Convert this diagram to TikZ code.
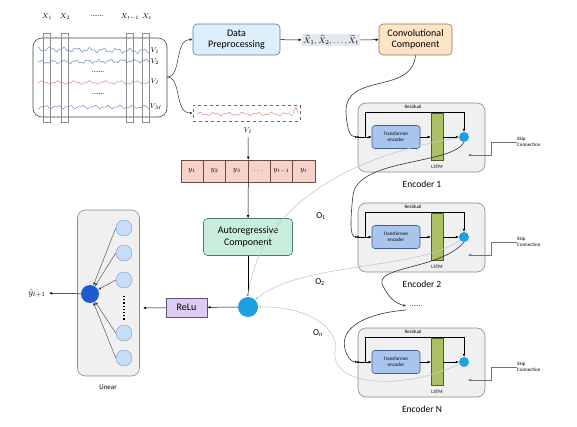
\documentclass[tikz,border=0pt]{standalone}
\usepackage{fontspec}
\setmainfont{Carlito}
\usepackage{amsmath}
\usetikzlibrary{arrows.meta,positioning}

\definecolor{seriesblue}{HTML}{6F8FC2}
\definecolor{seriesred}{HTML}{D48C82}
\definecolor{prepfill}{HTML}{DDEFFB}
\definecolor{prepdraw}{HTML}{5B7D9E}
\definecolor{convfill}{HTML}{FDE4C4}
\definecolor{convdraw}{HTML}{8C7455}
\definecolor{arfill}{HTML}{C9EDDC}
\definecolor{ardraw}{HTML}{4E7D66}
\definecolor{cellfill}{HTML}{F7D2C8}
\definecolor{celldraw}{HTML}{6B4A48}
\definecolor{relufill}{HTML}{DCCBF2}
\definecolor{reludraw}{HTML}{5E5470}
\definecolor{tffill}{HTML}{A9C5EE}
\definecolor{tfdraw}{HTML}{3E5F91}
\definecolor{lstmfill}{HTML}{A9C063}
\definecolor{lstmdraw}{HTML}{4F5E2A}
\definecolor{sumblue}{HTML}{1CA0E3}
\definecolor{outblue}{HTML}{1E5BD1}
\definecolor{neufill}{HTML}{C7DCF6}
\definecolor{neudraw}{HTML}{7E9CCB}
\definecolor{encfill}{HTML}{F0F0F0}
\definecolor{encdraw}{HTML}{8A8A8A}
\definecolor{xfill}{HTML}{E4E8F0}

\tikzset{
  box/.style={draw=#1, rounded corners=4pt, line width=0.6pt, align=center,
    inner sep=0pt, font=\fontsize{10}{11.5}\selectfont},
  panel/.style={draw=black!75, rounded corners=9pt, line width=0.6pt},
  strip/.style={draw=black!45, line width=0.5pt},
  cell/.style={draw=celldraw, fill=cellfill, minimum width=22.3, minimum height=22,
    inner sep=0pt, line width=0.6pt, font=\fontsize{7}{8}\selectfont},
  encbox/.style={draw=encdraw, fill=encfill, rounded corners=8pt, minimum width=127,
    minimum height=69, line width=0.6pt},
  tfbox/.style={draw=tfdraw, fill=tffill, rounded corners=3pt, minimum width=48,
    minimum height=23, inner sep=0pt, align=center, line width=0.6pt,
    font=\fontsize{5}{6}\selectfont},
  lstmbox/.style={draw=lstmdraw, fill=lstmfill, minimum width=12, minimum height=47,
    inner sep=0pt, line width=0.6pt},
  sumdot/.style={circle, fill=sumblue, inner sep=0pt},
  neuron/.style={circle, draw=neudraw, fill=neufill, minimum size=16, inner sep=0pt},
  tinylab/.style={font=\fontsize{5}{6}\selectfont, inner sep=0pt},
  chain/.style={black!80, line width=0.6pt},
  ocurve/.style={black!22, line width=0.6pt},
}

\begin{document}
\begin{tikzpicture}[x=1pt, y=-1pt, >={Latex[length=3pt,width=2.6pt]}]
  \useasboundingbox (0,0) rectangle (577,427);

  % Datos de entrada
  \node[panel, minimum width=134, minimum height=79] (series) at (100,77.5) {};
  \draw[seriesblue, line width=0.5pt] plot[domain=38:150, samples=90, smooth]
    (\x, {49 + 1.6*sin(27*\x) + 1.1*sin(71*\x+40) + 0.02*(\x-38)});
  \draw[seriesblue, line width=0.5pt] plot[domain=38:150, samples=90, smooth]
    (\x, {62 + 1.3*sin(31*\x+80) + 0.9*sin(83*\x) - 0.01*(\x-38)});
  \draw[seriesred, line width=0.5pt] plot[domain=38:150, samples=90, smooth]
    (\x, {82.5 + 1.2*sin(23*\x+20) + 0.8*sin(67*\x+10)});
  \draw[seriesblue, line width=0.5pt] plot[domain=38:150, samples=90, smooth]
    (\x, {107 + 1.2*sin(29*\x+50) + 0.8*sin(59*\x)});
  \foreach \sx in {47,64.5,129.5,146}
    \draw[strip] (\sx-3.3,33) rectangle (\sx+3.3,122);
  \node[font=\fontsize{7}{8}\selectfont] (x1) at (47,17) {$X_1$};
  \node[font=\fontsize{7}{8}\selectfont] (x2) at (65,17) {$X_2$};
  \node[font=\fontsize{7}{8}\selectfont] (xdots) at (97,16) {.......};
  \node[font=\fontsize{7}{8}\selectfont] (xt1) at (130,17) {$X_{t-1}$};
  \node[font=\fontsize{7}{8}\selectfont] (xt) at (147,17) {$X_t$};
  \node[font=\fontsize{7}{8}\selectfont] (v1) at (155,51) {$V_1$};
  \node[font=\fontsize{7}{8}\selectfont] (v2) at (155,62) {$V_2$};
  \node[font=\fontsize{7}{8}\selectfont] (vdots1) at (98,72) {.......};
  \node[font=\fontsize{7}{8}\selectfont] (vi) at (155,82) {$V_I$};
  \node[font=\fontsize{7}{8}\selectfont] (vdots2) at (98,94) {.......};
  \node[font=\fontsize{7}{8}\selectfont] (vm) at (156,107) {$V_M$};
  \coordinate (split) at (167,77);

  % Preprocesado y convolucion
  \node[box=prepdraw, fill=prepfill, minimum width=87, minimum height=31] (prep)
    at (236.5,39.5) {Data\\Preprocessing};
  \node[fill=xfill, inner sep=1.5pt, font=\fontsize{8.5}{10}\selectfont] (xtil)
    at (331,40) {$\widetilde{X}_1,\widetilde{X}_2,\ldots,\widetilde{X}_t$};
  \node[box=convdraw, fill=convfill, minimum width=73, minimum height=31] (conv)
    at (415.5,39.5) {Convolutional\\Component};
  \draw[->, line width=0.5pt] (prep) -- (xtil);
  \draw[->, line width=0.5pt] (xtil) -- (conv);

  % Serie seleccionada
  \node[draw=black!60, dashed, line width=0.5pt, minimum width=107, minimum height=16,
    inner sep=0pt] (sel) at (246.5,113) {};
  \draw[seriesred, line width=0.5pt] plot[domain=197:293, samples=70, smooth]
    (\x, {114 + 1.1*sin(25*(\x-190)+30) + 0.8*sin(61*(\x-190))});
  \draw[seriesred, line width=0.5pt] (293,114) -- (296,107) -- (298,113);
  \draw[->, black!80, line width=0.5pt] (split) .. controls (182,77) and (174,40) .. (prep.west);
  \draw[->, black!80, line width=0.5pt] (split) .. controls (182,77) and (174,113) .. (sel.west);
  \node[font=\fontsize{7}{8}\selectfont] (vsel) at (248,131) {$V_I$};

  % Fila de valores
  \foreach \lab [count=\i] in {y_1,y_2,y_3,\cdots,y_{t-1},y_t}
    \node[cell] (cell\i) at (181+22.33*\i-11.17,171) {$\lab$};
  \draw[->, line width=0.5pt] (vsel) -- (cell3.north east);

  % Componente autorregresivo
  \node[box=ardraw, fill=arfill, minimum width=89, minimum height=37] (ar)
    at (248,237) {Autoregressive\\Component};
  \draw[->, line width=0.5pt] (cell3.south east) -- (ar);
  \node[sumdot, minimum size=20] (sum) at (248,307) {};
  \draw[->, line width=0.5pt] (ar) -- (sum);

  % ReLu y capa lineal
  \node[box=reludraw, fill=relufill, rounded corners=0pt, minimum width=41,
    minimum height=19] (relu) at (186.5,307.5) {ReLu};
  \draw[->, line width=0.5pt] (sum) -- (relu);
  \node[draw=black!45, fill=encfill, rounded corners=8pt, minimum width=62,
    minimum height=166, line width=0.6pt] (lin) at (108.5,293) {};
  \coordinate (linin) at (143,308);
  \draw[->, line width=0.5pt] (relu) -- (linin);
  \foreach \ny [count=\i] in {228,253,280,333,358}
    \node[neuron] (n\i) at (124,\ny) {};
  \draw[line width=1.2pt, dotted] (124,296) -- (124,320);
  \node[circle, fill=outblue, minimum size=18, inner sep=0pt] (yout) at (90,294) {};
  \foreach \i in {1,...,5}
    \draw[->, black!75, line width=0.4pt] (n\i.west) -- (yout);
  \node[font=\fontsize{9}{10}\selectfont] (yhat) at (37,293) {$\hat{y}_{t+1}$};
  \draw[->, line width=0.5pt] (yout) -- (yhat);
  \node[font=\fontsize{7}{8}\selectfont] (linlab) at (108,387) {Linear};

  % Codificadores
  \foreach \c/\nm in {137/1,237/2,362/N}{
    \node[encbox] (enc\nm) at (421.5,\c+0.5) {};
    \node[font=\fontsize{9.5}{11}\selectfont] (encname\nm) at (422,\c+47) {Encoder \nm};
    \node[tfbox] (tf\nm) at (396,\c) {Transformer\\encoder};
    \node[lstmbox] (lstm\nm) at (437,\c) {};
    \node[tinylab] (lstmlab\nm) at (437,\c+30) {LSTM};
    \node[sumdot, minimum size=10] (s\nm) at (464,\c) {};
    \node[tinylab] (reslab\nm) at (413,\c-30) {Residual};
    \coordinate (in\nm) at (358,\c);
    \coordinate (res\nm) at (365,\c);
    \coordinate (rtop\nm) at (464,\c-25);
    \draw[->, line width=0.5pt] (in\nm) -- (tf\nm);
    \draw[->, line width=0.5pt] (tf\nm) -- (lstm\nm);
    \draw[->, line width=0.5pt] (lstm\nm) -- (s\nm);
    \draw[->, line width=0.5pt] (res\nm) |- (rtop\nm) -- (s\nm);
    \fill (in\nm) circle (1.1pt);
    \node[tinylab, align=left, anchor=west] (skip\nm) at (517,\c+5) {Skip\\Connection};
    \coordinate (sk\nm) at (468,\c+18);
    \draw[->, black!55, line width=0.4pt] (skip\nm.west) -- ++(-26,0) |- (sk\nm);
  }

  % Conexiones entre codificadores
  \draw[chain, ->] (conv.south) .. controls (412,95) and (345,72) .. (346,112)
    .. controls (347,130) and (350,137) .. (in1);
  \draw[chain, ->] (s1.south) .. controls (452,165) and (358,158) .. (353,195)
    .. controls (350,222) and (350,237) .. (in2);
  \node[font=\fontsize{7}{8}\selectfont] (encdots) at (416,306) {.......};
  \draw[chain, ->] (s2.south) .. controls (440,270) and (372,266) .. (383,286)
    .. controls (388,296) and (394,303) .. (encdots.west);
  \draw[chain, ->] (encdots.south west) .. controls (360,314) and (340,330) .. (345,349)
    .. controls (347,357) and (351,362) .. (inN);

  % Salidas hacia la suma
  \draw[ocurve, ->] (s1) .. controls (380,150) and (262,190) .. (sum.north);
  \draw[ocurve, ->] (s2) .. controls (420,270) and (300,262) .. (sum.45);
  \draw[ocurve, ->] (sN) .. controls (400,392) and (324,386) .. (336,346)
    .. controls (332,318) and (292,306) .. (sum.east);
  \node[font=\fontsize{9}{10}\selectfont] (o1) at (321,216) {O\textsubscript{1}};
  \node[font=\fontsize{9}{10}\selectfont] (o2) at (320,282) {O\textsubscript{2}};
  \node[font=\fontsize{9}{10}\selectfont] (on) at (318,333) {O\textsubscript{n}};
\end{tikzpicture}
\end{document}
